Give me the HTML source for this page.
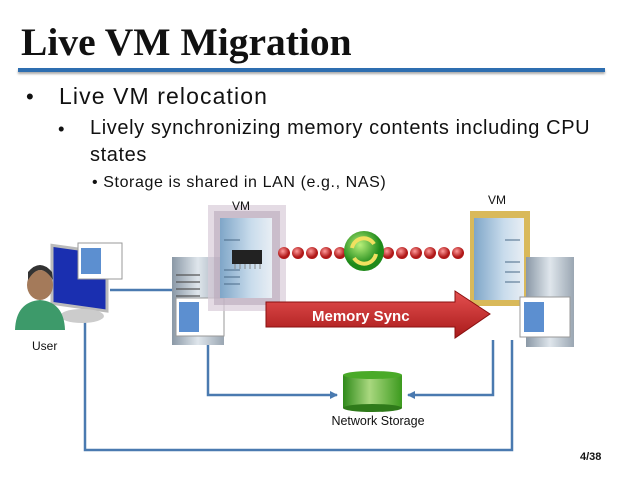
<!DOCTYPE html>
<html><head><meta charset="utf-8"><style>
body{margin:0;width:638px;height:479px;background:#fff;overflow:hidden;position:relative;font-family:"Liberation Sans",sans-serif}
.t{position:absolute;white-space:nowrap;color:#111}
</style></head><body>
<div class="t" style="left:21px;top:19px;font:bold 39.5px 'Liberation Serif',serif;">Live VM Migration</div>
<div style="position:absolute;left:18px;top:68px;width:587px;height:4px;background:#2e6eb0;box-shadow:0 2px 2px #aaa"></div>
<div class="t" style="left:26px;top:84px;font-size:22px">•</div>
<div class="t" style="left:59px;top:83px;font-size:23px;letter-spacing:1.1px">Live VM relocation</div>
<div class="t" style="left:58px;top:118px;font-size:18.5px">•</div>
<div class="t" style="left:90px;top:117px;font-size:20px;letter-spacing:0.6px">Lively synchronizing memory contents including CPU</div>
<div class="t" style="left:90px;top:144px;font-size:20px;letter-spacing:0.6px">states</div>
<div class="t" style="left:92px;top:174px;font-size:16px;letter-spacing:0.6px">• Storage is shared in LAN (e.g., NAS)</div>
<svg width="638" height="479" style="position:absolute;left:0;top:0" font-family="Liberation Sans, sans-serif">
<defs>
<linearGradient id="sv" x1="0" x2="1"><stop offset="0" stop-color="#8a98a6"/><stop offset=".5" stop-color="#dfe6ec"/><stop offset="1" stop-color="#9aa6b2"/></linearGradient>
<linearGradient id="vm" x1="0" x2="1"><stop offset="0" stop-color="#7fa6c8"/><stop offset=".6" stop-color="#c9dcec"/><stop offset="1" stop-color="#e8eef4"/></linearGradient>
<linearGradient id="red" x1="0" y1="0" x2="0" y2="1"><stop offset="0" stop-color="#e55050"/><stop offset="1" stop-color="#a81a1a"/></linearGradient>
<linearGradient id="grn" x1="0" x2="1"><stop offset="0" stop-color="#2f8a1a"/><stop offset=".45" stop-color="#a9d87f"/><stop offset="1" stop-color="#3c9a1e"/></linearGradient>
<radialGradient id="dot" cx=".4" cy=".35"><stop offset="0" stop-color="#ff9a9a"/><stop offset="1" stop-color="#b01818"/></radialGradient>
<radialGradient id="gc" cx=".4" cy=".35"><stop offset="0" stop-color="#b8f07a"/><stop offset="1" stop-color="#1f8a1a"/></radialGradient>
<marker id="ah" markerWidth="8" markerHeight="8" refX="7" refY="4" orient="auto" markerUnits="userSpaceOnUse"><path d="M0,0 L8,4 L0,8 Z" fill="#4a7ab0"/></marker>
</defs>
<g stroke="#4a7ab0" stroke-width="2.5" fill="none">
<polyline points="110,290 175,290"/>
<polyline points="85,320 85,450 512,450 512,340"/>
<polyline points="208,345 208,395 337,395" marker-end="url(#ah)"/>
<polyline points="493,340 493,395 408,395" marker-end="url(#ah)"/>
</g>
<rect x="52" y="248" width="55" height="58" fill="#1a2fb0" stroke="#bbb" stroke-width="3" transform="skewY(8) translate(0,-10)"/>
<ellipse cx="82" cy="316" rx="22" ry="7" fill="#ccc"/>
<rect x="78" y="243" width="44" height="36" fill="#fff" stroke="#999"/>
<rect x="81" y="248" width="20" height="26" fill="#5c8fd0"/>
<ellipse cx="40" cy="285" rx="13" ry="15" fill="#a47a5a"/>
<path d="M28,280 Q40,260 53,280 L52,272 Q40,258 28,272Z" fill="#333"/>
<path d="M15,330 Q16,302 40,300 Q64,302 65,330 Z" fill="#3d9a6a"/>
<text x="32" y="350" font-size="12" fill="#111">User</text>
<rect x="172" y="257" width="52" height="88" fill="url(#sv)"/>
<g stroke="#555" stroke-width="1.2"><line x1="176" y1="275" x2="200" y2="275"/><line x1="176" y1="282" x2="200" y2="282"/><line x1="176" y1="289" x2="200" y2="289"/><line x1="176" y1="296" x2="200" y2="296"/></g>
<rect x="176" y="298" width="48" height="38" fill="#fff" stroke="#999"/>
<rect x="179" y="302" width="20" height="30" fill="#5c8fd0"/>
<rect x="208" y="205" width="78" height="106" fill="#d8ccd8" opacity=".7"/>
<rect x="214" y="211" width="66" height="94" fill="#b9a8bb" opacity=".6"/>
<rect x="220" y="218" width="52" height="80" fill="url(#vm)"/>
<g stroke="#4a6a88" stroke-width="1"><line x1="224" y1="240" x2="240" y2="240"/><line x1="224" y1="270" x2="240" y2="270"/><line x1="224" y1="277" x2="240" y2="277"/><line x1="224" y1="284" x2="240" y2="284"/></g>
<rect x="232" y="250" width="30" height="14" fill="#222"/>
<g stroke="#888" stroke-width="1"><line x1="235" y1="264" x2="235" y2="269"/><line x1="240" y1="264" x2="240" y2="269"/><line x1="245" y1="264" x2="245" y2="269"/><line x1="250" y1="264" x2="250" y2="269"/><line x1="255" y1="264" x2="255" y2="269"/><line x1="260" y1="264" x2="260" y2="269"/></g>
<text x="232" y="210" font-size="12" fill="#111">VM</text>
<g fill="url(#dot)">
<circle cx="284" cy="253" r="6"/><circle cx="298" cy="253" r="6"/><circle cx="312" cy="253" r="6"/><circle cx="326" cy="253" r="6"/><circle cx="340" cy="253" r="6"/>
<circle cx="388" cy="253" r="6"/><circle cx="402" cy="253" r="6"/><circle cx="416" cy="253" r="6"/><circle cx="430" cy="253" r="6"/><circle cx="444" cy="253" r="6"/><circle cx="458" cy="253" r="6"/>
</g>
<circle cx="364" cy="251" r="20" fill="url(#gc)"/>
<path d="M352,248 A12,12 0 0 1 374,244" stroke="#f0e060" stroke-width="4" fill="none"/>
<path d="M376,254 A12,12 0 0 1 354,258" stroke="#f0e060" stroke-width="4" fill="none"/>
<text x="488" y="204" font-size="12" fill="#111">VM</text>
<rect x="470" y="211" width="60" height="95" fill="#d9b95a"/>
<rect x="474" y="218" width="50" height="82" fill="url(#vm)"/>
<g stroke="#4a6a88" stroke-width="1"><line x1="505" y1="240" x2="520" y2="240"/><line x1="505" y1="262" x2="520" y2="262"/><line x1="505" y1="272" x2="520" y2="272"/><line x1="505" y1="282" x2="520" y2="282"/></g>
<rect x="526" y="257" width="48" height="90" fill="url(#sv)"/>
<rect x="520" y="297" width="50" height="40" fill="#fff" stroke="#999"/>
<rect x="524" y="302" width="20" height="30" fill="#5c8fd0"/>
<path d="M266,302 L455,302 L455,291 L490,314 L455,338 L455,327 L266,327 Z" fill="url(#red)" stroke="#8a1010" stroke-width="1"/>
<text x="312" y="321" font-size="15" font-weight="bold" fill="#fff">Memory Sync</text>
<rect x="343" y="375" width="59" height="33" fill="url(#grn)"/>
<ellipse cx="372.5" cy="408" rx="29.5" ry="4" fill="#2f7a1a"/>
<ellipse cx="372.5" cy="375" rx="29.5" ry="4" fill="#4aaa28"/>
<text x="378" y="425" font-size="12.5" text-anchor="middle" fill="#111">Network Storage</text>
<text x="580" y="460" font-size="11" font-weight="bold" fill="#111">4/38</text>
</svg>
</body></html>
